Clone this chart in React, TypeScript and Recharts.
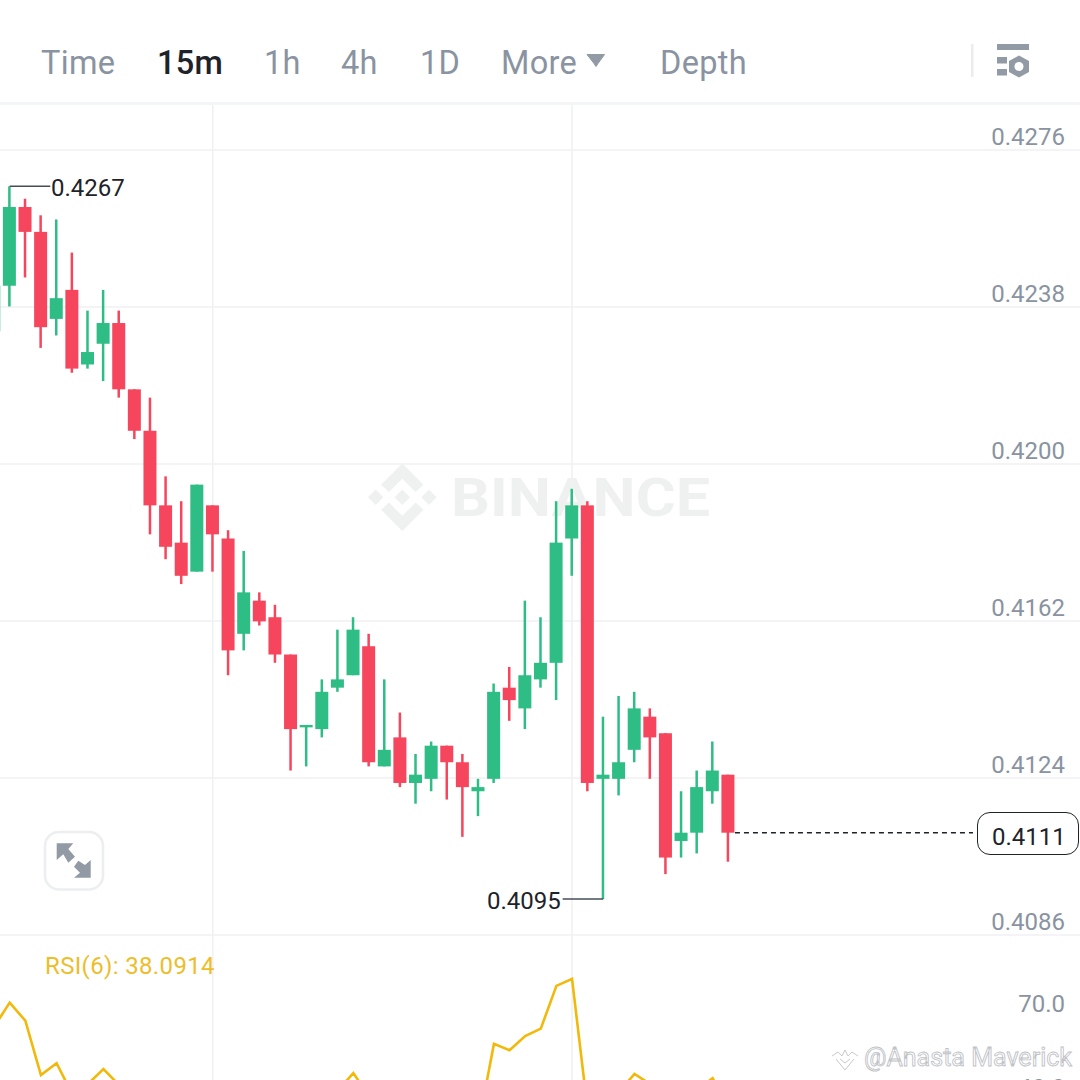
import React from 'react';
import { ComposedChart, Bar, Line, XAxis, YAxis, CartesianGrid, ReferenceLine } from 'recharts';

const candleIndex = [-1,0,1,2,3,4,5,6,7,8,9,10,11,12,13,14,15,16,17,18,19,20,21,22,23,24,25,26,27,28,29,30,31,32,33,34,35,36,37,38,39,40,41,42,43,44,45,46];
const opens = [.4232,.4243,.4262,.4256,.4235,.4242,.4224,.4229,.4234,.4218,.4208,.4190,.4181,.4174,.4190,.4182,.4159,.4167,.4163,.4154,.4137,.4136,.4146,.4149,.4156,.4127,.4134,.4123,.4124,.4132,.4128,.4121,.4124,.4146,.4141,.4148,.4152,.4182,.4190,.4124,.4124,.4131,.4139,.4135,.4109,.4111,.4121,.4125];
const closes = [.4243,.4262,.4256,.4233,.4240,.4223,.4227,.4234,.4218,.4208,.4190,.4180,.4173,.4195,.4183,.4155,.4169,.4162,.4154,.4136,.4137,.4145,.4148,.4160,.4128,.4131,.4123,.4125,.4132,.4128,.4122,.4122,.4145,.4143,.4149,.4152,.4181,.4190,.4123,.4125,.4128,.4141,.4134,.4105,.4111,.4122,.4126,.4111];
const highs = [.4243,.4267,.4264,.4260,.4259,.4251,.4237,.4242,.4237,.4218,.4216,.4197,.4191,.4195,.4190,.4184,.4179,.4169,.4166,.4154,.4137,.4148,.4160,.4163,.4159,.4148,.4140,.4130,.4133,.4132,.4130,.4124,.4147,.4151,.4167,.4163,.4191,.4194,.4191,.4139,.4144,.4145,.4141,.4135,.4121,.4126,.4133,.4125];
const lows = [.4232,.4238,.4245,.4228,.4231,.4222,.4223,.4220,.4216,.4206,.4183,.4177,.4171,.4174,.4174,.4149,.4155,.4161,.4152,.4126,.4127,.4134,.4145,.4149,.4127,.4127,.4122,.4118,.4121,.4119,.4110,.4115,.4123,.4138,.4136,.4146,.4143,.4173,.4121,.4095,.4120,.4128,.4124,.4101,.4105,.4106,.4118,.4104];
const rsiValues = [66.5,75.1,68.7,49.5,53.7,42.8,46.3,51.6,46,33,22,19,17,38,30,20,30,27,24,18,19,32,44,50.2,42,30,24,26,33,29,25,31.5,60.5,58.3,63.3,65.9,81,83.5,37.1,36,43.5,49.9,46.3,34.3,38.9,44.2,48.4,38.09];
const priceTicks = [0.427576,0.423787,0.419998,0.416209,0.41242,0.408631];
const rsiTicks = [70,40];
const gridIndex = [13,36];
const menuItems = [
  { label: 'Time', x: 41 }, { label: '15m', x: 157, active: true }, { label: '1h', x: 264 },
  { label: '4h', x: 341 }, { label: '1D', x: 420 }, { label: 'More', x: 501 }, { label: 'Depth', x: 660 },
];

const FONT = 'Roboto, sans-serif';
const GREEN = '#2EBD85';
const RED = '#F6465D';
const GRID = '#F0F1F3';
const GREY = '#8A93A1';
const DARK = '#1E2329';
const X_DOMAIN: [number, number] = [-0.621, 68.52];

const candles = candleIndex.map((i, k) => ({ i, open: opens[k], close: closes[k], high: highs[k], low: lows[k], range: [lows[k], highs[k]] }));
const rsiData = candleIndex.map((i, k) => ({ i, rsi: rsiValues[k] }));

function Candle(props: any) {
  const { x, y, width, height, payload } = props;
  const { open, close, high, low } = payload;
  const k = height / (high - low);
  const up = close >= open;
  const color = up ? GREEN : RED;
  const top = y + (high - Math.max(open, close)) * k;
  const bh = Math.max(Math.abs(close - open) * k, 2.4);
  const cx = x + width / 2;
  return (
    <g>
      <rect x={cx - 1.25} y={y} width={2.5} height={Math.max(height, 1)} fill={color} />
      <rect x={x} y={top} width={width} height={bh} fill={color} />
    </g>
  );
}

function PriceTick(props: any) {
  const { y, payload } = props;
  return <text x={1065} y={y - 4.7} textAnchor="end" fontFamily={FONT} fontSize={24} fill={GREY}>{Number(payload.value).toFixed(4)}</text>;
}
function RsiTick(props: any) {
  const { y, payload } = props;
  return <text x={1065} y={y - 5.5} textAnchor="end" fontFamily={FONT} fontSize={24} fill={GREY}>{Number(payload.value).toFixed(1)}</text>;
}

const abs = (left: number, top: number, extra: any = {}) => ({ position: 'absolute' as const, left, top, whiteSpace: 'nowrap' as const, fontFamily: FONT, lineHeight: 1, ...extra });

export default function App() {
  return (
    <div style={{ position: 'absolute', left: 0, top: 0, width: 1080, height: 1080, overflow: 'hidden', background: '#fff' }}>
      {/* watermark */}
      <svg width={1080} height={1080} style={{ position: 'absolute', left: 0, top: 0 }}>
        <g fill="#EFF1F1">
          <polygon points="402.3,463.5 423.5,484.7 415.6,492 402.3,478.7 389,492 381.1,484.7" />
          <polygon points="402.3,531 423.5,509.8 415.6,502.5 402.3,515.8 389,502.5 381.1,509.8" />
          <polygon points="402.3,489.5 410,497.2 402.3,505 394.6,497.2" />
          <polygon points="375.7,489.5 383.4,497.2 375.7,505 368,497.2" />
          <polygon points="429,489.5 436.7,497.2 429,505 421.3,497.2" />
          <text x={451} y={516} fontFamily={FONT} fontWeight={700} fontSize={53} textLength={259} lengthAdjust="spacingAndGlyphs">BINANCE</text>
        </g>
      </svg>

      {/* price panel */}
      <div style={{ position: 'absolute', left: 0, top: 105 }}>
        <ComposedChart width={1080} height={832} data={candles} margin={{ top: 0, right: 0, bottom: 2, left: 0 }}>
          <XAxis dataKey="i" type="number" domain={X_DOMAIN} allowDataOverflow hide ticks={gridIndex} />
          <YAxis orientation="right" mirror width={100} domain={[0.408631, 0.428662]} allowDataOverflow ticks={priceTicks} interval={0} axisLine={false} tickLine={false} tick={PriceTick} />
          <CartesianGrid stroke={GRID} strokeWidth={1.6} horizontalValues={priceTicks} verticalValues={gridIndex} />
          <ReferenceLine segment={[{ x: 0, y: 0.4267 }, { x: 2.6, y: 0.4267 }]} stroke="#474D57" strokeWidth={1.5} />
          <ReferenceLine segment={[{ x: 35.4, y: 0.4095 }, { x: 38, y: 0.4095 }]} stroke="#474D57" strokeWidth={1.5} />
          <ReferenceLine segment={[{ x: 46.43, y: 0.4111 }, { x: 61.67, y: 0.4111 }]} stroke={DARK} strokeWidth={1.5} strokeDasharray="5 4" />
          <Bar dataKey="range" barSize={13} shape={Candle} isAnimationActive={false} />
        </ComposedChart>
      </div>

      {/* RSI panel */}
      <div style={{ position: 'absolute', left: 0, top: 935 }}>
        <ComposedChart width={1080} height={265} data={rsiData} margin={{ top: 0, right: 0, bottom: 0, left: 0 }}>
          <XAxis dataKey="i" type="number" domain={X_DOMAIN} allowDataOverflow hide ticks={gridIndex} />
          <YAxis orientation="right" mirror width={100} domain={[5.34, 98.98]} allowDataOverflow ticks={rsiTicks} interval={0} axisLine={false} tickLine={false} tick={RsiTick} />
          <CartesianGrid stroke={GRID} strokeWidth={1.6} horizontal={false} verticalValues={gridIndex} />
          <Line dataKey="rsi" stroke="#F0B90B" strokeWidth={2.6} dot={false} isAnimationActive={false} />
        </ComposedChart>
      </div>

      {/* header */}
      <div style={{ position: 'absolute', left: 0, top: 102, width: 1080, height: 3, background: '#F4F5F7' }} />
      {menuItems.map((m) => (
        <span key={m.label} style={abs(m.x, 47, { fontSize: 32.5, color: m.active ? DARK : GREY, fontWeight: m.active ? 500 : 400, letterSpacing: m.active ? 0.3 : 0.3 })}>{m.label}</span>
      ))}
      <svg width={1080} height={105} style={{ position: 'absolute', left: 0, top: 0 }}>
        <polygon points="587,54.5 604.5,54.5 598,63.5 596,66.5 594,63.5" fill="#929AA5" stroke="#929AA5" strokeWidth={1} strokeLinejoin="round" />
        <rect x={971} y={44} width={2.5} height={33} fill="#EAECEF" />
        <g fill="#929AA5">
          <rect x={997} y={44} width={32} height={6} />
          <rect x={997} y={57} width={10} height={6.5} />
          <rect x={997} y={69} width={10} height={6.5} />
          <polygon points="1019,55.5 1029,61 1029,72 1019,77.5 1009,72 1009,61" />
          <circle cx={1019} cy={66.5} r={4.5} fill="#fff" />
        </g>
      </svg>

      {/* annotations */}
      <span style={abs(51, 176, { fontSize: 24, color: DARK })}>0.4267</span>
      <span style={abs(487, 889, { fontSize: 24, color: DARK })}>0.4095</span>
      <div style={{ position: 'absolute', left: 977, top: 812, width: 100, height: 41, border: `1.5px solid ${DARK}`, borderRadius: 13, background: '#fff' }} />
      <span style={abs(992, 825, { fontSize: 24, color: DARK })}>0.4111</span>
      <span style={abs(45, 954, { fontSize: 24, letterSpacing: 0.35, color: '#EDBD2A' })}>RSI(6): 38.0914</span>

      {/* expand button */}
      <svg width={130} height={100} style={{ position: 'absolute', left: 0, top: 810 }}>
        <g transform="translate(0,-810)">
          <rect x={45} y={832} width={58} height={57.5} rx={14} fill="#fff" stroke="#ECEEF0" strokeWidth={2.6} />
          <polygon points="56.7,843.3 73.3,843.3 68.3,849 75,856.7 68.3,862.7 63.3,854.3 56.7,860" fill="#929AA5" />
          <polygon points="90.7,877.7 90.7,860 85,865 78.3,860.7 74,866.7 80,872.7 74,877.7" fill="#929AA5" />
        </g>
      </svg>

      {/* credit */}
      <svg width={260} height={50} style={{ position: 'absolute', left: 825, top: 1035 }}>
        <g transform="translate(-825,-1035)" fill="none" stroke="#C0C3C7" strokeWidth={0.9}>
          <polyline points="832,1056 838,1052 842,1056 845,1050 848,1056 852,1052 858,1056" />
          <polyline points="840,1059 845,1063 850,1059" />
          <polyline points="836,1059 845,1070 854,1059" />
          <text x={864} y={1066} fontFamily={FONT} fontSize={25} fill="#fff" textLength={208}>@Anasta Maverick</text>
        </g>
      </svg>
    </div>
  );
}
